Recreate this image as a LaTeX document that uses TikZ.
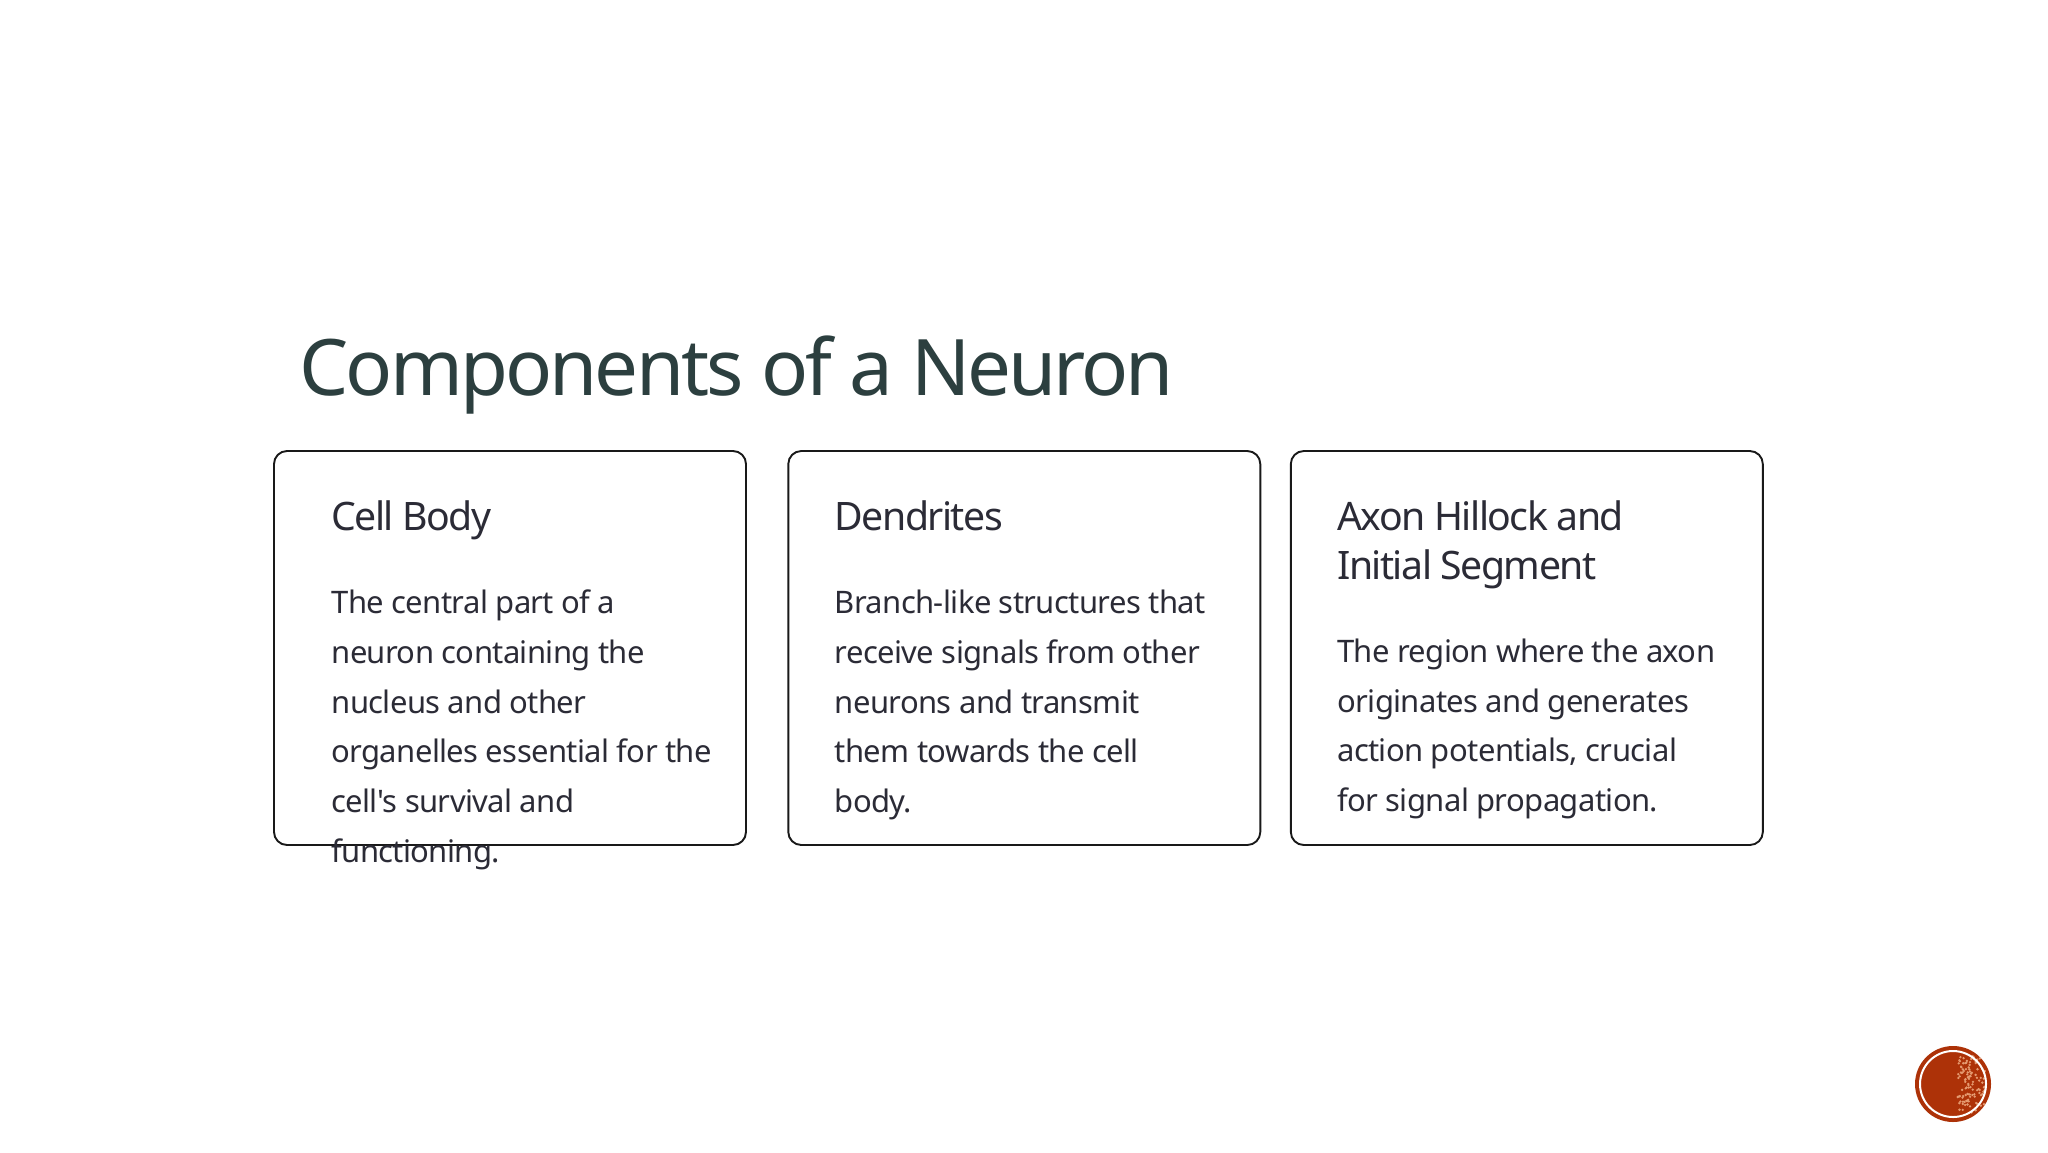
\documentclass[tikz,border=0pt]{standalone}
\usepackage{fontspec}
\setmainfont{Noto Sans}
\newfontfamily\titlefont[LetterSpace=-3.7]{Noto Sans}
\newfontfamily\headfont[LetterSpace=-3.9]{Noto Sans}
\newfontfamily\bodyfont[LetterSpace=-2.0]{Noto Sans}
\usetikzlibrary{positioning,calc}
\definecolor{titlegreen}{HTML}{2C3F3F}
\definecolor{cardtext}{HTML}{2B2B36}
\definecolor{rust}{HTML}{AD3208}
\definecolor{speck}{HTML}{E59A70}
\tikzset{
  card/.style={
    draw=black!90,
    line width=0.95pt,
    rounded corners=6.5pt,
    minimum width=236pt,
    minimum height=197pt,
  },
  main title/.style={
    anchor=base west,
    inner sep=0pt,
    text=titlegreen,
    font=\titlefont\fontsize{39}{48}\selectfont,
  },
  card title/.style={
    inner sep=0pt,
    align=left,
    text=cardtext,
    font=\headfont\fontsize{19.6}{24.2}\selectfont,
  },
  card body/.style={
    inner sep=0pt,
    align=left,
    text=cardtext,
    font=\bodyfont\fontsize{15.5}{24.85}\selectfont,
  }
}

\begin{document}
\begin{tikzpicture}[x=0.5pt,y=-0.5pt]
  \useasboundingbox [fill=white] (0,0) rectangle (2048,1152);

  \node [main title] (title) at (299,395) {Components of a Neuron};

  \node [card] (c1) at (510,648) {};
  \node [card, right=20.2pt of c1] (c2) {};
  \node [card, right=14.3pt of c2] (c3) {};

  \node [card title, below right=25.2pt and 29pt of c1.north west, anchor=north west] (t1) {Cell Body};
  \node [card title, below right=25.2pt and 23.5pt of c2.north west, anchor=north west] (t2) {Dendrites};
  \node [card title, below right=25.2pt and 23.5pt of c3.north west, anchor=north west] (t3) {Axon Hillock and\\Initial Segment};

  \node [card body, below right=69.8pt and 29pt of c1.north west, anchor=north west] (b1) {The central part of a\\neuron containing the\\nucleus and other\\organelles essential for the\\cell's survival and\\functioning.};
  \node [card body, below right=69.8pt and 23.5pt of c2.north west, anchor=north west] (b2) {Branch-like structures that\\receive signals from other\\neurons and transmit\\them towards the cell\\body.};
  \node [card body, below right=94.2pt and 23.5pt of c3.north west, anchor=north west] (b3) {The region where the axon\\originates and generates\\action potentials, crucial\\for signal propagation.};

  % badge
  \node [circle, fill=rust, minimum size=38pt, inner sep=0pt] (badge) at (1953,1084) {};
  \pgfmathsetseed{42}
  \foreach \i in {1,...,110}
    \fill [speck] ($(badge.center)+({4+rnd*28},{(rnd-0.5)*(rnd*20+40)})$) circle (1.3);
  \draw [white, line width=1pt] (badge.center) circle (33);
\end{tikzpicture}
\end{document}
